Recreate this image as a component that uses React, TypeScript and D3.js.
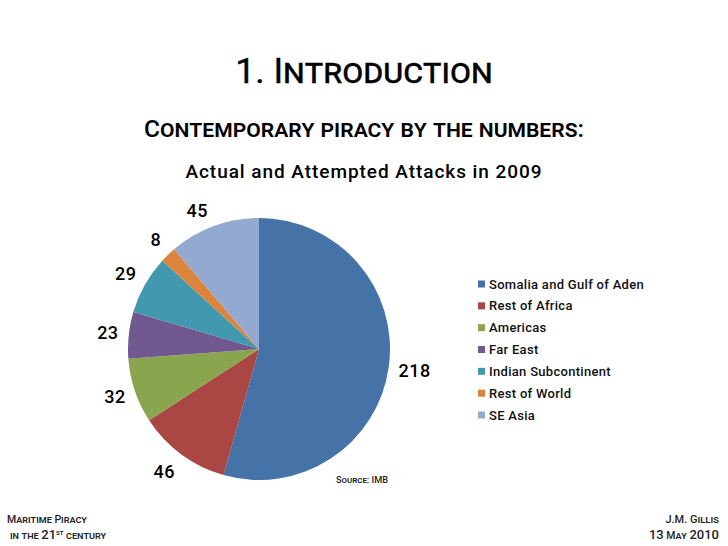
import React from 'react';
import * as d3 from 'd3';

const categories = ['Somalia and Gulf of Aden', 'Rest of Africa', 'Americas', 'Far East', 'Indian Subcontinent', 'Rest of World', 'SE Asia'];
const attacks = [218, 46, 32, 23, 29, 8, 45];
const colors = ['#4572A7', '#AA4643', '#89A54E', '#71588F', '#4198AF', '#DB843D', '#93A9CF'];

const FONT = 'Roboto, "Liberation Sans", sans-serif';

// Hand nudges for the value labels, the original placed them by hand too
const labelNudge = [[4, 1], [-4, -1], [1, -1], [1, 0], [0, 0], [3, 1], [-9, 5]];

const App: React.FC = () => {
  const width = 728;
  const height = 546;
  const cx = 259;
  const cy = 349;
  const radius = 131;

  // Slices in data order, clockwise from 12 o'clock
  const pie = d3.pie<number>().sort(null)(attacks);
  const arc = d3.arc<d3.PieArcDatum<number>>().innerRadius(0).outerRadius(radius);
  const labelArc = d3.arc<d3.PieArcDatum<number>>().innerRadius(153).outerRadius(153);

  const legendY = d3.scalePoint<string>()
    .domain(categories)
    .range([284, 415]);

  const footer = { fontSize: 11, fontWeight: 500, fill: '#222', style: { fontVariant: 'small-caps' } };

  return (
    <svg
      width={width}
      height={height}
      viewBox={`0 0 ${width} ${height}`}
      style={{ position: 'absolute', left: 0, top: 0, background: '#fff', fontFamily: FONT }}
    >
      <text x={364} y={83} textAnchor="middle" fontSize={35.5} fontWeight={400} fill="#000" stroke="#000" strokeWidth={0.4} style={{ fontVariant: 'small-caps' }}>
        1. Introduction
      </text>
      <text x={364} y={137} textAnchor="middle" fontSize={24.5} fontWeight={500} fill="#000" style={{ fontVariant: 'small-caps' }}>
        Contemporary piracy by the numbers:
      </text>
      <text x={364} y={178} textAnchor="middle" fontSize={19} fontWeight={500} fill="#000" letterSpacing={0.95}>
        Actual and Attempted Attacks in 2009
      </text>

      <g transform={`translate(${cx},${cy})`}>
        {pie.map((d, i) => (
          <path key={categories[i]} d={arc(d) as string} fill={colors[i]} />
        ))}
        {pie.map((d, i) => {
          const [x, y] = labelArc.centroid(d);
          return (
            <text
              key={categories[i]}
              x={x + labelNudge[i][0]}
              y={y + labelNudge[i][1]}
              dy="0.35em"
              textAnchor="middle"
              fontSize={18}
              fontWeight={500}
              fill="#000"
              letterSpacing={0.5}
            >
              {d.value}
            </text>
          );
        })}
      </g>

      {categories.map((c, i) => (
        <g key={c} transform={`translate(478,${legendY(c)})`}>
          <rect x={0} y={-3.5} width={7} height={7} fill={colors[i]} />
          <text x={11} y={0} dy="0.35em" fontSize={13} fontWeight={500} fill="#111" letterSpacing={0.3}>
            {c}
          </text>
        </g>
      ))}

      <text x={388} y={483} textAnchor="end" fontSize={9.2} fontWeight={500} fill="#222" style={{ fontVariant: 'small-caps' }}>
        Source: IMB
      </text>

      <text x={7} y={523} {...footer} fontSize={10.5}>
        Maritime Piracy
      </text>
      <text x={10} y={539} {...footer} fontSize={10.5}>
        in the <tspan fontSize={13}>21</tspan><tspan fontSize={7} dy={-4}>st</tspan><tspan dy={4}> century</tspan>
      </text>
      <text x={719} y={523} textAnchor="end" {...footer}>
        J.M. Gillis
      </text>
      <text x={719} y={539} textAnchor="end" {...footer} fontSize={10.5}>
        <tspan fontSize={13}>13</tspan> May <tspan fontSize={13}>2010</tspan>
      </text>
    </svg>
  );
};

export default App;
